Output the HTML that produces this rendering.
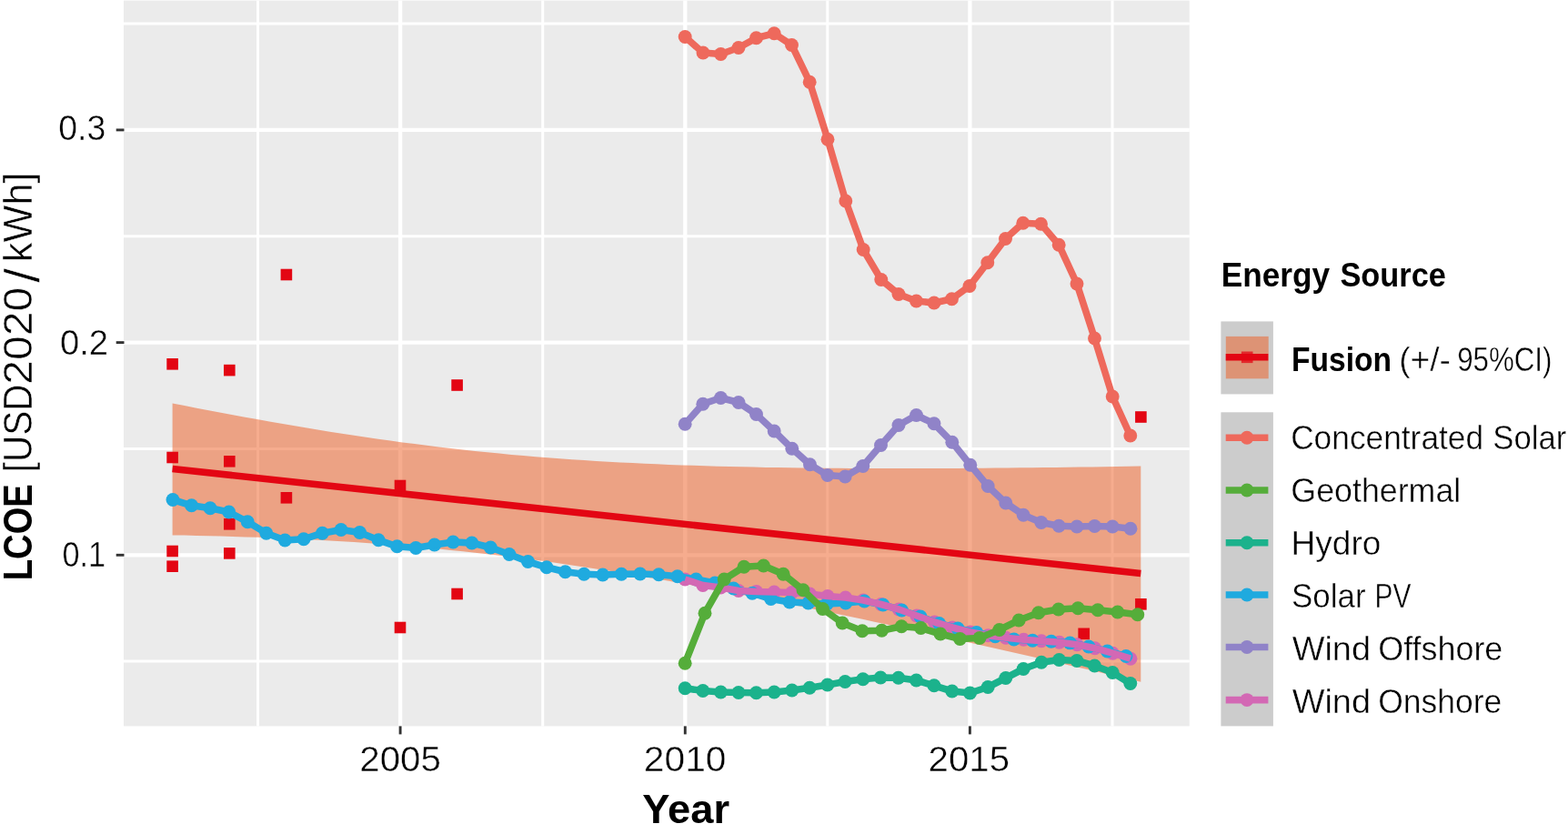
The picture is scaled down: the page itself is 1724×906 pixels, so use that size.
<!DOCTYPE html>
<html lang="en">
<head>
<meta charset="utf-8">
<title>LCOE by Energy Source</title>
<style>
html,body{margin:0;padding:0;background:#fff;}
body{width:1724px;height:906px;overflow:hidden;font-family:"Liberation Sans",sans-serif;}
svg{display:block;filter:blur(0.6px);}
</style>
</head>
<body>
<svg width="1724" height="906" viewBox="0 0 1724 906">
<rect x="0" y="0" width="1724" height="906" fill="#ffffff"/>
<rect x="136.0" y="0.6" width="1171.8" height="797.8" fill="#EBEBEB"/>
<g stroke="#ffffff" fill="none">
<line x1="136.0" x2="1307.8" y1="727.1" y2="727.1" stroke-width="3.0"/>
<line x1="136.0" x2="1307.8" y1="493.4" y2="493.4" stroke-width="3.0"/>
<line x1="136.0" x2="1307.8" y1="259.7" y2="259.7" stroke-width="3.0"/>
<line x1="136.0" x2="1307.8" y1="26.1" y2="26.1" stroke-width="3.0"/>
<line y1="0.6" y2="798.4" x1="283.5" x2="283.5" stroke-width="3.0"/>
<line y1="0.6" y2="798.4" x1="596.7" x2="596.7" stroke-width="3.0"/>
<line y1="0.6" y2="798.4" x1="909.8" x2="909.8" stroke-width="3.0"/>
<line y1="0.6" y2="798.4" x1="1223.0" x2="1223.0" stroke-width="3.0"/>
<line x1="136.0" x2="1307.8" y1="610.3" y2="610.3" stroke-width="4.3"/>
<line x1="136.0" x2="1307.8" y1="376.6" y2="376.6" stroke-width="4.3"/>
<line x1="136.0" x2="1307.8" y1="142.9" y2="142.9" stroke-width="4.3"/>
<line y1="0.6" y2="798.4" x1="440.1" x2="440.1" stroke-width="4.3"/>
<line y1="0.6" y2="798.4" x1="753.3" x2="753.3" stroke-width="4.3"/>
<line y1="0.6" y2="798.4" x1="1066.4" x2="1066.4" stroke-width="4.3"/>
</g>
<path d="M189.6,443.5 L202.9,446.1 L216.2,448.7 L229.5,451.3 L242.8,453.8 L256.1,456.3 L269.5,458.7 L282.8,461.1 L296.1,463.5 L309.4,465.8 L322.7,468.1 L336.0,470.3 L349.3,472.5 L362.6,474.7 L375.9,476.8 L389.2,478.8 L402.5,480.8 L415.9,482.7 L429.2,484.6 L442.5,486.4 L455.8,488.1 L469.1,489.8 L482.4,491.4 L495.7,493.0 L509.0,494.5 L522.3,495.9 L535.6,497.3 L548.9,498.6 L562.2,499.9 L575.6,501.0 L588.9,502.2 L602.2,503.2 L615.5,504.2 L628.8,505.2 L642.1,506.1 L655.4,506.9 L668.7,507.7 L682.0,508.4 L695.3,509.1 L708.6,509.7 L722.0,510.3 L735.3,510.9 L748.6,511.4 L761.9,511.8 L775.2,512.3 L788.5,512.7 L801.8,513.0 L815.1,513.3 L828.4,513.6 L841.7,513.9 L855.0,514.1 L868.4,514.3 L881.7,514.5 L895.0,514.6 L908.3,514.7 L921.6,514.8 L934.9,514.9 L948.2,515.0 L961.5,515.0 L974.8,515.1 L988.1,515.1 L1001.4,515.1 L1014.8,515.0 L1028.1,515.0 L1041.4,514.9 L1054.7,514.9 L1068.0,514.8 L1081.3,514.7 L1094.6,514.6 L1107.9,514.5 L1121.2,514.3 L1134.5,514.2 L1147.8,514.0 L1161.1,513.9 L1174.5,513.7 L1187.8,513.5 L1201.1,513.4 L1214.4,513.2 L1227.7,513.0 L1241.0,512.8 L1254.3,512.5 L1254.3,749.7 L1241.0,746.6 L1227.7,743.5 L1214.4,740.4 L1201.1,737.3 L1187.8,734.3 L1174.5,731.2 L1161.1,728.1 L1147.8,725.1 L1134.5,722.1 L1121.2,719.0 L1107.9,716.0 L1094.6,713.0 L1081.3,710.0 L1068.0,707.0 L1054.7,704.1 L1041.4,701.1 L1028.1,698.2 L1014.8,695.2 L1001.4,692.3 L988.1,689.4 L974.8,686.6 L961.5,683.7 L948.2,680.8 L934.9,678.0 L921.6,675.2 L908.3,672.4 L895.0,669.7 L881.7,666.9 L868.4,664.2 L855.0,661.5 L841.7,658.9 L828.4,656.3 L815.1,653.7 L801.8,651.1 L788.5,648.6 L775.2,646.1 L761.9,643.6 L748.6,641.2 L735.3,638.8 L722.0,636.5 L708.6,634.2 L695.3,631.9 L682.0,629.7 L668.7,627.6 L655.4,625.5 L642.1,623.4 L628.8,621.5 L615.5,619.5 L602.2,617.6 L588.9,615.8 L575.6,614.1 L562.2,612.4 L548.9,610.8 L535.6,609.2 L522.3,607.7 L509.0,606.2 L495.7,604.9 L482.4,603.6 L469.1,602.3 L455.8,601.1 L442.5,600.0 L429.2,598.9 L415.9,597.9 L402.5,597.0 L389.2,596.1 L375.9,595.3 L362.6,594.5 L349.3,593.8 L336.0,593.1 L322.7,592.4 L309.4,591.9 L296.1,591.3 L282.8,590.8 L269.5,590.4 L256.1,589.9 L242.8,589.6 L229.5,589.2 L216.2,588.9 L202.9,588.6 L189.6,588.4Z" fill="#ED5A1E" fill-opacity="0.5"/>
<line x1="189.6" y1="515.5" x2="1254.3" y2="630.5" stroke="#E30613" stroke-width="7.6"/>
<g fill="#E30613">
<rect x="183.3" y="394.0" width="12.6" height="12.6"/>
<rect x="246.0" y="400.8" width="12.6" height="12.6"/>
<rect x="308.6" y="295.7" width="12.6" height="12.6"/>
<rect x="496.3" y="417.2" width="12.6" height="12.6"/>
<rect x="183.3" y="496.7" width="12.6" height="12.6"/>
<rect x="246.0" y="501.0" width="12.6" height="12.6"/>
<rect x="308.6" y="541.0" width="12.6" height="12.6"/>
<rect x="433.7" y="527.7" width="12.6" height="12.6"/>
<rect x="246.0" y="570.0" width="12.6" height="12.6"/>
<rect x="183.3" y="599.7" width="12.6" height="12.6"/>
<rect x="246.0" y="602.1" width="12.6" height="12.6"/>
<rect x="183.3" y="616.4" width="12.6" height="12.6"/>
<rect x="496.3" y="646.7" width="12.6" height="12.6"/>
<rect x="433.7" y="683.7" width="12.6" height="12.6"/>
<rect x="1185.4" y="690.5" width="12.6" height="12.6"/>
<rect x="1248.1" y="658.0" width="12.6" height="12.6"/>
<rect x="1248.1" y="452.2" width="12.6" height="12.6"/>
</g>
<g fill="#D368B4"><circle cx="753.2" cy="637.0" r="7.45"/><circle cx="772.8" cy="643.5" r="7.45"/><circle cx="792.4" cy="646.0" r="7.45"/><circle cx="812.0" cy="649.5" r="7.45"/><circle cx="831.6" cy="650.5" r="7.45"/><circle cx="851.2" cy="651.0" r="7.45"/><circle cx="870.8" cy="651.5" r="7.45"/><circle cx="890.4" cy="653.0" r="7.45"/><circle cx="910.0" cy="655.5" r="7.45"/><circle cx="929.6" cy="657.0" r="7.45"/><circle cx="949.1" cy="660.0" r="7.45"/><circle cx="968.7" cy="664.5" r="7.45"/><circle cx="988.3" cy="670.0" r="7.45"/><circle cx="1007.9" cy="677.0" r="7.45"/><circle cx="1027.5" cy="684.0" r="7.45"/><circle cx="1047.1" cy="690.0" r="7.45"/><circle cx="1066.7" cy="695.0" r="7.45"/><circle cx="1086.3" cy="698.7" r="7.45"/><circle cx="1105.9" cy="701.2" r="7.45"/><circle cx="1125.5" cy="703.2" r="7.45"/><circle cx="1145.0" cy="704.7" r="7.45"/><circle cx="1164.6" cy="706.2" r="7.45"/><circle cx="1184.2" cy="708.7" r="7.45"/><circle cx="1203.8" cy="712.7" r="7.45"/><circle cx="1223.4" cy="718.2" r="7.45"/><circle cx="1243.0" cy="724.2" r="7.45"/></g>
<g fill="#1FAADF"><circle cx="190.0" cy="549.5" r="7.45"/><circle cx="210.6" cy="555.8" r="7.45"/><circle cx="231.1" cy="558.8" r="7.45"/><circle cx="251.7" cy="563.0" r="7.45"/><circle cx="272.2" cy="573.8" r="7.45"/><circle cx="292.8" cy="586.2" r="7.45"/><circle cx="313.3" cy="594.0" r="7.45"/><circle cx="333.9" cy="592.8" r="7.45"/><circle cx="354.4" cy="586.2" r="7.45"/><circle cx="375.0" cy="582.5" r="7.45"/><circle cx="395.5" cy="585.5" r="7.45"/><circle cx="416.1" cy="593.8" r="7.45"/><circle cx="436.6" cy="600.8" r="7.45"/><circle cx="457.2" cy="602.5" r="7.45"/><circle cx="477.7" cy="599.0" r="7.45"/><circle cx="498.2" cy="596.0" r="7.45"/><circle cx="518.8" cy="597.0" r="7.45"/><circle cx="539.4" cy="602.0" r="7.45"/><circle cx="559.9" cy="609.5" r="7.45"/><circle cx="580.5" cy="617.5" r="7.45"/><circle cx="601.0" cy="623.8" r="7.45"/><circle cx="621.5" cy="628.8" r="7.45"/><circle cx="642.1" cy="631.2" r="7.45"/><circle cx="662.7" cy="632.0" r="7.45"/><circle cx="683.2" cy="631.2" r="7.45"/><circle cx="703.8" cy="631.0" r="7.45"/><circle cx="724.3" cy="631.8" r="7.45"/><circle cx="744.9" cy="633.8" r="7.45"/><circle cx="765.4" cy="637.0" r="7.45"/><circle cx="786.0" cy="641.0" r="7.45"/><circle cx="806.5" cy="647.0" r="7.45"/><circle cx="827.1" cy="652.2" r="7.45"/><circle cx="847.6" cy="658.5" r="7.45"/><circle cx="868.1" cy="662.0" r="7.45"/><circle cx="888.7" cy="663.0" r="7.45"/><circle cx="909.2" cy="664.0" r="7.45"/><circle cx="929.8" cy="663.0" r="7.45"/><circle cx="950.4" cy="661.0" r="7.45"/><circle cx="970.9" cy="665.0" r="7.45"/><circle cx="991.5" cy="671.0" r="7.45"/><circle cx="1012.0" cy="678.0" r="7.45"/><circle cx="1032.6" cy="685.5" r="7.45"/><circle cx="1053.1" cy="691.0" r="7.45"/><circle cx="1073.7" cy="695.5" r="7.45"/><circle cx="1094.2" cy="699.7" r="7.45"/><circle cx="1114.8" cy="703.0" r="7.45"/><circle cx="1135.3" cy="704.3" r="7.45"/><circle cx="1155.8" cy="705.3" r="7.45"/><circle cx="1176.4" cy="706.9" r="7.45"/><circle cx="1197.0" cy="711.0" r="7.45"/><circle cx="1217.5" cy="716.0" r="7.45"/><circle cx="1238.0" cy="721.5" r="7.45"/></g>
<path d="M190.0,549.5 L210.6,555.8 L231.1,558.8 L251.7,563.0 L272.2,573.8 L292.8,586.2 L313.3,594.0 L333.9,592.8 L354.4,586.2 L375.0,582.5 L395.5,585.5 L416.1,593.8 L436.6,600.8 L457.2,602.5 L477.7,599.0 L498.2,596.0 L518.8,597.0 L539.4,602.0 L559.9,609.5 L580.5,617.5 L601.0,623.8 L621.5,628.8 L642.1,631.2 L662.7,632.0 L683.2,631.2 L703.8,631.0 L724.3,631.8 L744.9,633.8 L765.4,637.0 L786.0,641.0 L806.5,647.0 L827.1,652.2 L847.6,658.5 L868.1,662.0 L888.7,663.0 L909.2,664.0 L929.8,663.0 L950.4,661.0 L970.9,665.0 L991.5,671.0 L1012.0,678.0 L1032.6,685.5 L1053.1,691.0 L1073.7,695.5 L1094.2,699.7 L1114.8,703.0 L1135.3,704.3 L1155.8,705.3 L1176.4,706.9 L1197.0,711.0 L1217.5,716.0 L1238.0,721.5" fill="none" stroke="#1FAADF" stroke-width="7.6" stroke-linejoin="round" stroke-linecap="butt"/>
<path d="M753.2,637.0 L772.8,643.5 L792.4,646.0 L812.0,649.5 L831.6,650.5 L851.2,651.0 L870.8,651.5 L890.4,653.0 L910.0,655.5 L929.6,657.0 L949.1,660.0 L968.7,664.5 L988.3,670.0 L1007.9,677.0 L1027.5,684.0 L1047.1,690.0 L1066.7,695.0 L1086.3,698.7 L1105.9,701.2 L1125.5,703.2 L1145.0,704.7 L1164.6,706.2 L1184.2,708.7 L1203.8,712.7 L1223.4,718.2 L1243.0,724.2" fill="none" stroke="#D368B4" stroke-width="7.6" stroke-linejoin="round" stroke-linecap="butt"/>
<path d="M753.2,756.8 L772.8,759.5 L792.5,761.0 L812.0,761.5 L831.5,761.8 L851.2,761.0 L870.8,759.0 L890.2,756.2 L909.8,753.0 L929.2,749.5 L948.8,746.8 L968.2,745.0 L987.8,745.2 L1007.5,748.0 L1027.0,753.8 L1046.8,760.0 L1066.5,762.0 L1086.2,755.5 L1105.8,745.5 L1125.2,735.5 L1145.0,728.2 L1164.5,725.5 L1184.0,726.5 L1203.5,732.0 L1223.2,739.5 L1242.8,751.5" fill="none" stroke="#1BB28C" stroke-width="7.6" stroke-linejoin="round" stroke-linecap="butt"/>
<g fill="#1BB28C"><circle cx="753.2" cy="756.8" r="7.45"/><circle cx="772.8" cy="759.5" r="7.45"/><circle cx="792.5" cy="761.0" r="7.45"/><circle cx="812.0" cy="761.5" r="7.45"/><circle cx="831.5" cy="761.8" r="7.45"/><circle cx="851.2" cy="761.0" r="7.45"/><circle cx="870.8" cy="759.0" r="7.45"/><circle cx="890.2" cy="756.2" r="7.45"/><circle cx="909.8" cy="753.0" r="7.45"/><circle cx="929.2" cy="749.5" r="7.45"/><circle cx="948.8" cy="746.8" r="7.45"/><circle cx="968.2" cy="745.0" r="7.45"/><circle cx="987.8" cy="745.2" r="7.45"/><circle cx="1007.5" cy="748.0" r="7.45"/><circle cx="1027.0" cy="753.8" r="7.45"/><circle cx="1046.8" cy="760.0" r="7.45"/><circle cx="1066.5" cy="762.0" r="7.45"/><circle cx="1086.2" cy="755.5" r="7.45"/><circle cx="1105.8" cy="745.5" r="7.45"/><circle cx="1125.2" cy="735.5" r="7.45"/><circle cx="1145.0" cy="728.2" r="7.45"/><circle cx="1164.5" cy="725.5" r="7.45"/><circle cx="1184.0" cy="726.5" r="7.45"/><circle cx="1203.5" cy="732.0" r="7.45"/><circle cx="1223.2" cy="739.5" r="7.45"/><circle cx="1242.8" cy="751.5" r="7.45"/></g>
<path d="M753.2,466.2 L772.8,444.2 L792.5,437.5 L812.0,442.5 L831.5,455.5 L851.2,474.0 L870.8,493.2 L890.5,510.8 L909.8,522.5 L929.2,524.0 L948.8,512.5 L968.5,489.5 L988.0,467.5 L1007.5,456.5 L1027.0,465.8 L1046.8,486.2 L1066.8,511.2 L1086.2,534.5 L1105.8,553.0 L1125.2,566.2 L1144.8,574.5 L1164.2,578.2 L1184.0,579.0 L1203.5,578.5 L1223.2,579.0 L1243.0,581.2" fill="none" stroke="#9083C8" stroke-width="7.6" stroke-linejoin="round" stroke-linecap="butt"/>
<g fill="#9083C8"><circle cx="753.2" cy="466.2" r="7.45"/><circle cx="772.8" cy="444.2" r="7.45"/><circle cx="792.5" cy="437.5" r="7.45"/><circle cx="812.0" cy="442.5" r="7.45"/><circle cx="831.5" cy="455.5" r="7.45"/><circle cx="851.2" cy="474.0" r="7.45"/><circle cx="870.8" cy="493.2" r="7.45"/><circle cx="890.5" cy="510.8" r="7.45"/><circle cx="909.8" cy="522.5" r="7.45"/><circle cx="929.2" cy="524.0" r="7.45"/><circle cx="948.8" cy="512.5" r="7.45"/><circle cx="968.5" cy="489.5" r="7.45"/><circle cx="988.0" cy="467.5" r="7.45"/><circle cx="1007.5" cy="456.5" r="7.45"/><circle cx="1027.0" cy="465.8" r="7.45"/><circle cx="1046.8" cy="486.2" r="7.45"/><circle cx="1066.8" cy="511.2" r="7.45"/><circle cx="1086.2" cy="534.5" r="7.45"/><circle cx="1105.8" cy="553.0" r="7.45"/><circle cx="1125.2" cy="566.2" r="7.45"/><circle cx="1144.8" cy="574.5" r="7.45"/><circle cx="1164.2" cy="578.2" r="7.45"/><circle cx="1184.0" cy="579.0" r="7.45"/><circle cx="1203.5" cy="578.5" r="7.45"/><circle cx="1223.2" cy="579.0" r="7.45"/><circle cx="1243.0" cy="581.2" r="7.45"/></g>
<path d="M753.2,729.2 L775.0,674.2 L796.2,637.0 L818.0,623.2 L839.5,622.0 L861.2,631.2 L883.0,648.8 L904.5,669.5 L926.2,685.0 L948.0,693.8 L969.5,693.2 L991.2,688.8 L1012.5,690.5 L1034.0,697.0 L1055.5,702.5 L1077.0,701.5 L1098.8,692.5 L1120.2,682.0 L1141.8,673.8 L1163.8,670.0 L1185.2,668.8 L1207.0,670.8 L1228.8,673.0 L1250.8,675.8" fill="none" stroke="#55AD3A" stroke-width="7.6" stroke-linejoin="round" stroke-linecap="butt"/>
<g fill="#55AD3A"><circle cx="753.2" cy="729.2" r="7.45"/><circle cx="775.0" cy="674.2" r="7.45"/><circle cx="796.2" cy="637.0" r="7.45"/><circle cx="818.0" cy="623.2" r="7.45"/><circle cx="839.5" cy="622.0" r="7.45"/><circle cx="861.2" cy="631.2" r="7.45"/><circle cx="883.0" cy="648.8" r="7.45"/><circle cx="904.5" cy="669.5" r="7.45"/><circle cx="926.2" cy="685.0" r="7.45"/><circle cx="948.0" cy="693.8" r="7.45"/><circle cx="969.5" cy="693.2" r="7.45"/><circle cx="991.2" cy="688.8" r="7.45"/><circle cx="1012.5" cy="690.5" r="7.45"/><circle cx="1034.0" cy="697.0" r="7.45"/><circle cx="1055.5" cy="702.5" r="7.45"/><circle cx="1077.0" cy="701.5" r="7.45"/><circle cx="1098.8" cy="692.5" r="7.45"/><circle cx="1120.2" cy="682.0" r="7.45"/><circle cx="1141.8" cy="673.8" r="7.45"/><circle cx="1163.8" cy="670.0" r="7.45"/><circle cx="1185.2" cy="668.8" r="7.45"/><circle cx="1207.0" cy="670.8" r="7.45"/><circle cx="1228.8" cy="673.0" r="7.45"/><circle cx="1250.8" cy="675.8" r="7.45"/></g>
<path d="M753.2,40.5 L773.0,58.0 L792.5,59.5 L812.0,52.5 L831.5,41.8 L851.2,36.8 L870.5,49.5 L890.2,90.2 L910.0,153.2 L929.8,221.0 L949.2,274.5 L968.8,307.5 L988.0,323.5 L1007.5,331.0 L1027.0,333.0 L1046.5,328.8 L1066.0,314.5 L1085.8,288.8 L1105.5,262.5 L1124.8,245.2 L1144.5,246.2 L1164.2,269.2 L1184.0,312.0 L1203.5,372.0 L1223.2,436.0 L1242.8,479.0" fill="none" stroke="#EE695C" stroke-width="7.6" stroke-linejoin="round" stroke-linecap="butt"/>
<g fill="#EE695C"><circle cx="753.2" cy="40.5" r="7.45"/><circle cx="773.0" cy="58.0" r="7.45"/><circle cx="792.5" cy="59.5" r="7.45"/><circle cx="812.0" cy="52.5" r="7.45"/><circle cx="831.5" cy="41.8" r="7.45"/><circle cx="851.2" cy="36.8" r="7.45"/><circle cx="870.5" cy="49.5" r="7.45"/><circle cx="890.2" cy="90.2" r="7.45"/><circle cx="910.0" cy="153.2" r="7.45"/><circle cx="929.8" cy="221.0" r="7.45"/><circle cx="949.2" cy="274.5" r="7.45"/><circle cx="968.8" cy="307.5" r="7.45"/><circle cx="988.0" cy="323.5" r="7.45"/><circle cx="1007.5" cy="331.0" r="7.45"/><circle cx="1027.0" cy="333.0" r="7.45"/><circle cx="1046.5" cy="328.8" r="7.45"/><circle cx="1066.0" cy="314.5" r="7.45"/><circle cx="1085.8" cy="288.8" r="7.45"/><circle cx="1105.5" cy="262.5" r="7.45"/><circle cx="1124.8" cy="245.2" r="7.45"/><circle cx="1144.5" cy="246.2" r="7.45"/><circle cx="1164.2" cy="269.2" r="7.45"/><circle cx="1184.0" cy="312.0" r="7.45"/><circle cx="1203.5" cy="372.0" r="7.45"/><circle cx="1223.2" cy="436.0" r="7.45"/><circle cx="1242.8" cy="479.0" r="7.45"/></g>
<g stroke="#333333" stroke-width="2.9">
<line x1="127.7" x2="136.5" y1="610.3" y2="610.3"/>
<line x1="127.7" x2="136.5" y1="376.6" y2="376.6"/>
<line x1="127.7" x2="136.5" y1="142.9" y2="142.9"/>
<line y1="798.4" y2="807.4" x1="440.1" x2="440.1"/>
<line y1="798.4" y2="807.4" x1="753.3" x2="753.3"/>
<line y1="798.4" y2="807.4" x1="1066.4" x2="1066.4"/>
</g>
<text y="154.1" font-family="'Liberation Sans', sans-serif" font-size="39.3" fill="#000" stroke="#ffffff" stroke-width="0.47" stroke-linejoin="round"><tspan x="64.22" font-weight="normal" textLength="52.03" lengthAdjust="spacingAndGlyphs">0.3</tspan></text>
<text y="390.0" font-family="'Liberation Sans', sans-serif" font-size="39.3" fill="#000" stroke="#ffffff" stroke-width="0.47" stroke-linejoin="round"><tspan x="65.94" font-weight="normal" textLength="53.19" lengthAdjust="spacingAndGlyphs">0.2</tspan></text>
<text y="622.9" font-family="'Liberation Sans', sans-serif" font-size="39.3" fill="#000" stroke="#ffffff" stroke-width="0.47" stroke-linejoin="round"><tspan x="68.39" font-weight="normal" textLength="47.65" lengthAdjust="spacingAndGlyphs">0.1</tspan></text>
<text y="847.6" font-family="'Liberation Sans', sans-serif" font-size="39.3" fill="#000" stroke="#ffffff" stroke-width="0.47" stroke-linejoin="round"><tspan x="395.35" font-weight="normal" textLength="89.56" lengthAdjust="spacingAndGlyphs">2005</tspan></text>
<text y="847.6" font-family="'Liberation Sans', sans-serif" font-size="39.3" fill="#000" stroke="#ffffff" stroke-width="0.47" stroke-linejoin="round"><tspan x="707.82" font-weight="normal" textLength="90.75" lengthAdjust="spacingAndGlyphs">2010</tspan></text>
<text y="847.6" font-family="'Liberation Sans', sans-serif" font-size="39.3" fill="#000" stroke="#ffffff" stroke-width="0.47" stroke-linejoin="round"><tspan x="1020.55" font-weight="normal" textLength="89.56" lengthAdjust="spacingAndGlyphs">2015</tspan></text>
<text y="905.2" font-family="'Liberation Sans', sans-serif" font-size="44" fill="#000"><tspan x="706.23" font-weight="bold" stroke="none" textLength="95.83" lengthAdjust="spacingAndGlyphs">Year</tspan></text>
<text transform="translate(35.0,0) rotate(-90)" y="0" font-family="'Liberation Sans', sans-serif" font-size="43.5" fill="#000" stroke="#ffffff" stroke-width="0.52" stroke-linejoin="round"><tspan x="-638.23" font-weight="bold" stroke="none" textLength="106.02" lengthAdjust="spacingAndGlyphs">LCOE</tspan> <tspan x="-519.27" font-size="44.3" font-weight="normal" textLength="96.78" lengthAdjust="spacingAndGlyphs">[USD</tspan><tspan x="-422.85" font-size="44.3" font-weight="normal" textLength="107.10" lengthAdjust="spacingAndGlyphs">2020</tspan><tspan x="-310.73" dy="8" font-size="54" textLength="15.75" lengthAdjust="spacingAndGlyphs">/</tspan><tspan x="-288.13" dy="-8" font-size="44.3" font-weight="normal" textLength="98.61" lengthAdjust="spacingAndGlyphs">kWh]</tspan></text>
<text y="315.3" font-family="'Liberation Sans', sans-serif" font-size="36" fill="#000"><tspan x="1342.75" font-weight="bold" stroke="none" textLength="119.44" lengthAdjust="spacingAndGlyphs">Energy</tspan> <tspan x="1473.45" font-weight="bold" stroke="none" textLength="116.49" lengthAdjust="spacingAndGlyphs">Source</tspan></text>
<rect x="1342.4" y="353.4" width="57.5" height="80" fill="#CCCCCC"/>
<rect x="1347.8" y="369.9" width="46.9" height="46.4" fill="#ED5A1E" fill-opacity="0.5"/>
<rect x="1364.9" y="386.5" width="12.6" height="12.6" fill="#E30613" fill-opacity="0.75"/>
<line x1="1347.7" x2="1394.4" y1="392.8" y2="392.8" stroke="#E30613" stroke-width="7.6"/>
<text y="407.8" font-family="'Liberation Sans', sans-serif" font-size="36" fill="#000" stroke="#ffffff" stroke-width="0.43" stroke-linejoin="round"><tspan x="1420.07" font-weight="bold" stroke="none" textLength="110.01" lengthAdjust="spacingAndGlyphs">Fusion</tspan> <tspan x="1538.18" font-weight="normal" textLength="56.77" lengthAdjust="spacingAndGlyphs">(+/-</tspan> <tspan x="1602.18" font-weight="normal" textLength="104.31" lengthAdjust="spacingAndGlyphs">95%CI)</tspan></text>
<rect x="1342.4" y="453.3" width="57.5" height="345.1" fill="#CCCCCC"/>
<line x1="1347.7" x2="1394.4" y1="481.3" y2="481.3" stroke="#EE695C" stroke-width="7.6"/>
<circle cx="1371.0" cy="481.3" r="7.45" fill="#EE695C"/>
<text y="493.6" font-family="'Liberation Sans', sans-serif" font-size="37.7" fill="#000" stroke="#ffffff" stroke-width="0.45" stroke-linejoin="round"><tspan x="1419.13" font-weight="normal" textLength="211.97" lengthAdjust="spacingAndGlyphs">Concentrated</tspan> <tspan x="1641.29" font-weight="normal" textLength="80.98" lengthAdjust="spacingAndGlyphs">Solar</tspan></text>
<line x1="1347.7" x2="1394.4" y1="539.0" y2="539.0" stroke="#55AD3A" stroke-width="7.6"/>
<circle cx="1371.0" cy="539.0" r="7.45" fill="#55AD3A"/>
<text y="552.3" font-family="'Liberation Sans', sans-serif" font-size="37.7" fill="#000" stroke="#ffffff" stroke-width="0.45" stroke-linejoin="round"><tspan x="1419.34" font-weight="normal" textLength="186.90" lengthAdjust="spacingAndGlyphs">Geothermal</tspan></text>
<line x1="1347.7" x2="1394.4" y1="596.7" y2="596.7" stroke="#1BB28C" stroke-width="7.6"/>
<circle cx="1371.0" cy="596.7" r="7.45" fill="#1BB28C"/>
<text y="609.8" font-family="'Liberation Sans', sans-serif" font-size="37.7" fill="#000" stroke="#ffffff" stroke-width="0.45" stroke-linejoin="round"><tspan x="1419.55" font-weight="normal" textLength="98.89" lengthAdjust="spacingAndGlyphs">Hydro</tspan></text>
<line x1="1347.7" x2="1394.4" y1="654.0" y2="654.0" stroke="#1FAADF" stroke-width="7.6"/>
<circle cx="1371.0" cy="654.0" r="7.45" fill="#1FAADF"/>
<text y="667.9" font-family="'Liberation Sans', sans-serif" font-size="37.7" fill="#000" stroke="#ffffff" stroke-width="0.45" stroke-linejoin="round"><tspan x="1420.08" font-weight="normal" textLength="81.49" lengthAdjust="spacingAndGlyphs">Solar</tspan> <tspan x="1511.62" font-weight="normal" textLength="39.91" lengthAdjust="spacingAndGlyphs">PV</tspan></text>
<line x1="1347.7" x2="1394.4" y1="711.5" y2="711.5" stroke="#9083C8" stroke-width="7.6"/>
<circle cx="1371.0" cy="711.5" r="7.45" fill="#9083C8"/>
<text y="725.8" font-family="'Liberation Sans', sans-serif" font-size="37.7" fill="#000" stroke="#ffffff" stroke-width="0.45" stroke-linejoin="round"><tspan x="1420.65" font-weight="normal" textLength="86.36" lengthAdjust="spacingAndGlyphs">Wind</tspan> <tspan x="1515.23" font-weight="normal" textLength="137.14" lengthAdjust="spacingAndGlyphs">Offshore</tspan></text>
<line x1="1347.7" x2="1394.4" y1="769.6" y2="769.6" stroke="#D368B4" stroke-width="7.6"/>
<circle cx="1371.0" cy="769.6" r="7.45" fill="#D368B4"/>
<text y="783.8" font-family="'Liberation Sans', sans-serif" font-size="37.7" fill="#000" stroke="#ffffff" stroke-width="0.45" stroke-linejoin="round"><tspan x="1420.65" font-weight="normal" textLength="86.36" lengthAdjust="spacingAndGlyphs">Wind</tspan> <tspan x="1515.25" font-weight="normal" textLength="136.05" lengthAdjust="spacingAndGlyphs">Onshore</tspan></text>
</svg>
</body>
</html>
